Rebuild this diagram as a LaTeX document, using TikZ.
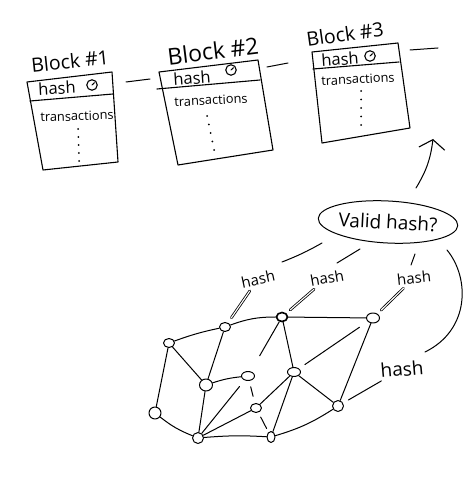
\documentclass[tikz,border=0pt]{standalone}
\usepackage{fontspec}
\setmainfont{Open Sans}
\usetikzlibrary{shapes.geometric,arrows.meta,calc}
\begin{document}
\begin{tikzpicture}[x=1pt,y=-1pt,line width=1pt,line cap=round,line join=round,
  nd/.style={draw,ellipse,minimum width=11pt,minimum height=9pt,inner sep=0pt},
  blk/.style={draw,line width=1.1pt},
  ttl/.style={font=\fontsize{19.5}{20}\selectfont,inner sep=0pt},
  hsh/.style={font=\fontsize{16.5}{17}\selectfont,inner sep=0pt},
  trn/.style={font=\fontsize{12.8}{13}\selectfont,inner sep=0pt},
  lbl/.style={font=\fontsize{15}{15}\selectfont,inner sep=1pt},
  dotm/.style={circle,fill,inner sep=0pt,minimum size=2pt},
  clk/.style={draw,circle,minimum size=10.5pt,inner sep=0pt,line width=1.1pt,
    path picture={\draw[line width=1pt] (path picture bounding box.center) -- ++(2.4pt,2.2pt);}},
  stroke/.style={double,double distance=1.1pt,line width=0.8pt}
]
\useasboundingbox (0,0) rectangle (474,486);

% ---------------- Blocks ----------------
% Block 1
\draw[blk] (27,82) -- (112,72) -- (118,162) -- (43,170) -- cycle;
\draw[blk] (30,101) -- (113,94);
\node[ttl,rotate=6] (t1) at (70,61) {Block \#1};
\node[hsh,rotate=3] (h1txt) at (57,88) {hash};
\node[clk] (c1) at (92,85) {};
\node[trn,rotate=2] (tr1) at (77,116) {transactions};
\foreach \i in {0,...,4} \node[dotm] at (78+0.3*\i,129+8*\i) {};

% Block 2
\draw[blk] (159,72) -- (258,60) -- (273,150) -- (178,165) -- cycle;
\draw[blk] (157,89) -- (260,80);
\node[ttl,rotate=7,font=\fontsize{23}{23}\selectfont] (t2) at (213,51) {Block \#2};
\node[hsh,rotate=4] (h2txt) at (192,78) {hash};
\node[clk] (c2) at (231,70) {};
\node[trn,rotate=3] (tr2) at (211,100) {transactions};
\foreach \i in {0,...,4} \node[dotm] at (207+1.8*\i,116+8.5*\i) {};

% Block 3
\draw[blk] (312,52) -- (398,43) -- (410,128) -- (322,143) -- cycle;
\draw[blk] (313,69) -- (399,62);
\node[ttl,rotate=8] (t3) at (345,34) {Block \#3};
\node[hsh,rotate=4] (h3txt) at (340,59) {hash};
\node[clk] (c3) at (370,56) {};
\node[trn,rotate=3] (tr3) at (358,79) {transactions};
\foreach \i in {0,...,4} \node[dotm] at (361,91+8.5*\i) {};

% links between blocks
\coordinate (l1a) at (126,82); \coordinate (l1b) at (150,79);
\coordinate (l2a) at (267,67); \coordinate (l2b) at (288,63);
\coordinate (l3a) at (410,50); \coordinate (l3b) at (438,48);
\draw (l1a) -- (l1b);
\draw (l2a) -- (l2b);
\draw (l3a) -- (l3b);

% ---------------- Valid hash? ----------------
\node[draw,ellipse,minimum width=123pt,minimum height=42pt,inner sep=0pt,
      font=\fontsize{19}{19}\selectfont,rotate=-3] (V) at (388,222) {Valid hash?};
\coordinate (a0) at (416,188);
\coordinate (tip) at (433,139);
\draw[-{Straight Barb[width=26pt,length=9pt,line width=1.1pt]}] (a0) to[bend right=12] (tip);

% ---------------- Network ----------------
\node[nd] (A) at (225,327) {};
\node[nd,line width=1.6pt] (B) at (282,317) {};
\node[nd,minimum width=13pt,minimum height=10pt] (C) at (373,318) {};
\node[nd] (D) at (169,343) {};
\node[nd,minimum width=13pt,minimum height=12pt] (E) at (206,385) {};
\node[nd,minimum width=13pt] (F) at (248,376) {};
\node[nd,minimum width=13pt] (G) at (294,372) {};
\node[nd,minimum width=12pt,minimum height=12pt] (H) at (155,413) {};
\node[nd] (I) at (256,408) {};
\node[nd,minimum height=11pt] (J) at (338,406) {};
\node[nd,minimum height=11pt] (K) at (198,438) {};
\node[nd,minimum width=8pt,minimum height=11pt] (L) at (271,437) {};

\draw (D) to[bend left=4] (A);
\draw (A) to[bend left=10] (B);
\draw (B) -- (C);
\draw (D) -- (E);
\draw (D) -- (H);
\draw (A) -- (E);
\draw (E) to[bend left=6] (F);
\draw (E) -- (K);
\draw (H) to[bend right=8] (K);
\draw[shorten >=18pt] (B) -- (F);
\draw (B) -- (G);
\draw[shorten <=10pt,shorten >=7pt] (C) -- (G);
\draw (C) -- (J);
\draw (G) -- (J);
\draw (G) -- (I);
\draw (G) -- (L);
\draw[shorten <=6pt,shorten >=7pt] (F) -- (I);
\draw[shorten <=5pt,shorten >=4pt] (I) -- (L);
\draw[shorten >=8pt] (K) -- (F);
\draw (K) -- (I);
\draw (K) to[bend left=4] (L);
\draw (J) to[bend left=8] (L);

% ---------------- hash messages ----------------
\node[lbl,rotate=12] (m1) at (258,279) {hash};
\node[lbl,rotate=10] (m2) at (327,278) {hash};
\node[lbl,rotate=6] (m3) at (414,278) {hash};
\node[lbl,rotate=5,font=\fontsize{19}{19}\selectfont] (m4) at (402,369) {hash};

\coordinate (s1) at (322,243); \coordinate (e1) at (282,262);
\coordinate (s2) at (360,249); \coordinate (e2) at (337,263);
\coordinate (s3) at (415,254); \coordinate (e3) at (411,265);
\coordinate (s4) at (447,250); \coordinate (e4) at (425,352);
\draw (s1) to[bend left=4] (e1);
\draw (s2) -- (e2);
\draw (s3) -- (e3);
\draw (s4) .. controls (470,278) and (470,330) .. (e4);

\draw[stroke,shorten <=4pt,shorten >=6pt] (m1) -- (A);
\draw[stroke,shorten <=3pt,shorten >=5pt] (m2) -- (B);
\draw[stroke,shorten <=3pt,shorten >=5pt] (m3) -- (C);
\draw[shorten <=3pt,shorten >=6pt] (m4) -- (J);
\end{tikzpicture}
\end{document}
